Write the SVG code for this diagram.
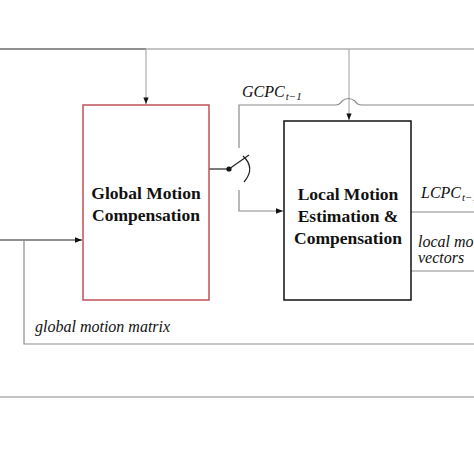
<svg xmlns="http://www.w3.org/2000/svg" width="474" height="474" viewBox="0 0 474 474">
<defs>
<style>
.ln{fill:none;stroke:#8a8a8a;stroke-width:1.2}
.lv{fill:none;stroke:#a8a8a8;stroke-width:1.1}
.lk{fill:none;stroke:#222;stroke-width:1.2}
.bt{font-family:"Liberation Serif",serif;font-weight:bold;font-size:17.5px;fill:#111;text-anchor:middle}
.it{font-family:"Liberation Serif",serif;font-style:italic;font-size:16px;fill:#111}
.sb{font-size:11px}
</style>
<marker id="ah" viewBox="0 0 10 10" refX="10" refY="5" markerWidth="6" markerHeight="6" orient="auto">
<path d="M0,1 L10,5 L0,9 Z" fill="#111"/>
</marker>
</defs>
<rect width="474" height="474" fill="#fff"/>
<g id="connectors">
<line class="lk" x1="0" y1="49" x2="146" y2="49" stroke-width="1.6"/>
<line class="ln" x1="146" y1="49" x2="474" y2="49"/>
<line class="lv" x1="146" y1="49" x2="146" y2="104" marker-end="url(#ah)"/>
<line class="lv" x1="349" y1="49" x2="349" y2="120" marker-end="url(#ah)"/>
<line class="lk" x1="0" y1="240" x2="82" y2="240" marker-end="url(#ah)"/>
<polyline class="ln" points="24,241 24,344 474,344" stroke-width="1.5"/>
<line class="ln" x1="0" y1="397" x2="474" y2="397" stroke-width="1.5"/>
<line class="lk" x1="209" y1="169" x2="229" y2="169"/>
<circle cx="229" cy="169" r="2.6" fill="#111"/>
<line class="lk" x1="229" y1="169" x2="249" y2="155"/>
<path class="lk" d="M243,156 Q256,168 244,182" stroke-width="1.7"/>
<path class="ln" d="M239,148 L239,105 L335,105 Q340,105 342,101 Q348,96 355,101 Q357,105 362,105 L474,105" stroke-width="1.5"/>
<polyline class="ln" points="239,190 239,211 283,211" marker-end="url(#ah)"/>
<line class="ln" x1="411" y1="212" x2="474" y2="212"/>
<line class="ln" x1="411" y1="271" x2="474" y2="271"/>
</g>
<g id="gmc">
<rect x="83" y="105" width="126" height="195" fill="#fff" stroke="#c0505a" stroke-width="1.5"/>
<text class="bt" x="146" y="199">Global Motion</text>
<text class="bt" x="146" y="221">Compensation</text>
</g>
<g id="lme">
<rect x="284" y="121" width="127" height="179" fill="#fff" stroke="#111" stroke-width="1.5"/>
<text class="bt" x="348" y="200">Local Motion</text>
<text class="bt" x="348" y="222">Estimation &amp;</text>
<text class="bt" x="348" y="244">Compensation</text>
</g>
<g id="labels">
<text class="it" x="242" y="97" font-size="14.5">GCPC<tspan class="sb" dy="3" dx="1">t−1</tspan></text>
<text class="it" x="421" y="198" font-size="15">LCPC<tspan class="sb" dy="3" dx="1">t−1</tspan></text>
<text class="it" x="418" y="247">local motion</text>
<text class="it" x="418" y="263">vectors</text>
<text class="it" x="35" y="332" font-size="17">global motion matrix</text>
</g>
</svg>
